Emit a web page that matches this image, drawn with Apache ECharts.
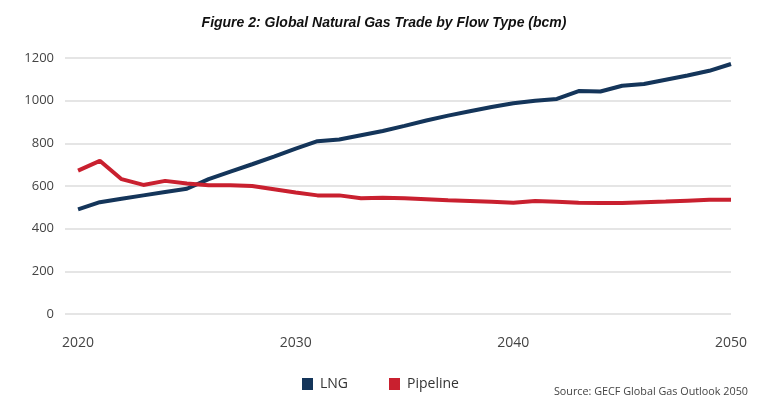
<!DOCTYPE html>
<html>
<head>
<meta charset="utf-8">
<script src="https://cdn.jsdelivr.net/npm/echarts@6/dist/echarts.min.js"></script>
<style>
html,body{margin:0;padding:0;background:#fff;}
#chart{width:768px;height:420px;}
</style>
</head>
<body>
<div id="chart"></div>
<script>
const years = [2020,2021,2022,2023,2024,2025,2026,2027,2028,2029,2030,2031,2032,2033,2034,2035,2036,2037,2038,2039,2040,2041,2042,2043,2044,2045,2046,2047,2048,2049,2050];
const lng = [490,524,540,556,572,587,632,667,702,738,775,810,818,838,858,882,907,930,950,970,988,1000,1008,1045,1043,1070,1078,1098,1118,1140,1172];
const pipeline = [672,718,632,605,624,612,603,603,600,585,570,556,556,543,545,543,538,533,530,526,522,530,526,522,520,520,524,527,531,535,535];
const xTickLabels = [2020,2030,2040,2050];
const yTicks = [0,200,400,600,800,1000,1200];

const chart = echarts.init(document.getElementById('chart'));
const pair = (arr) => years.map((y,i) => [y, arr[i]]);
chart.setOption({
  animation: false,
  backgroundColor: '#fff',
  title: {
    text: 'Figure 2: Global Natural Gas Trade by Flow Type (bcm)',
    left: 'center',
    top: 11,
    textStyle: {fontFamily: 'Liberation Sans, Arial, sans-serif', fontStyle: 'italic', fontWeight: 'bold', fontSize: 14, color: '#111'}
  },
  graphic: [{
    type: 'text',
    right: 20,
    top: 386,
    style: {text: 'Source: GECF Global Gas Outlook 2050', font: '10.8px "Open Sans", sans-serif', fill: '#444'}
  }],
  legend: {
    left: 297,
    top: 372,
    itemWidth: 11,
    itemHeight: 12,
    itemGap: 41,
    icon: 'rect',
    textStyle: {fontFamily: 'Open Sans, sans-serif', fontSize: 14, color: '#333', padding: [0,0,0,2]},
    data: ['LNG','Pipeline']
  },
  grid: {left: 65, right: 37, top: 58, bottom: 106, containLabel: false},
  xAxis: {
    type: 'value',
    min: 2019.4,
    max: 2050,
    axisLine: {show: false},
    axisTick: {show: false},
    splitLine: {show: false},
    axisLabel: {
      customValues: xTickLabels,
      margin: 22,
      fontFamily: 'Open Sans, sans-serif',
      fontSize: 14,
      color: '#444',
      formatter: v => String(v)
    }
  },
  yAxis: {
    type: 'value',
    min: yTicks[0],
    max: yTicks[yTicks.length-1],
    interval: 200,
    axisLine: {show: false},
    axisTick: {show: false},
    splitLine: {lineStyle: {color: '#dcdcdc', width: 1.5}},
    axisLabel: {margin: 11, fontFamily: 'Open Sans, sans-serif', fontSize: 13, color: '#444', formatter: v => String(v)}
  },
  series: [
    {name: 'LNG', type: 'line', data: pair(lng), showSymbol: false, symbol: 'none', lineStyle: {color: '#14355a', width: 4}, itemStyle: {color: '#14355a'}},
    {name: 'Pipeline', type: 'line', data: pair(pipeline), showSymbol: false, symbol: 'none', lineStyle: {color: '#c9202f', width: 4}, itemStyle: {color: '#c9202f'}}
  ]
});
</script>
</body>
</html>
